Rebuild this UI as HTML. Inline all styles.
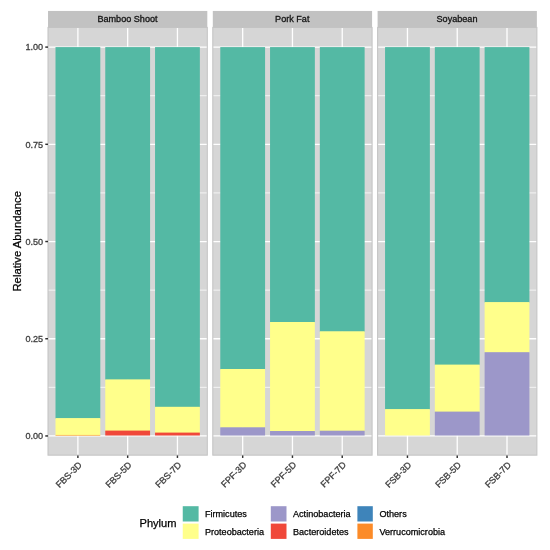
<!DOCTYPE html>
<html><head><meta charset="utf-8"><title>Phylum relative abundance</title>
<style>html,body{margin:0;padding:0;background:#fff}svg{display:block}</style></head>
<body>
<svg width="550" height="550" viewBox="0 0 550 550" font-family="Liberation Sans, Arial, Helvetica, sans-serif">
<rect width="550" height="550" fill="#fff"/>
<rect x="48.03" y="27.45" width="159.28" height="427.70" fill="#D6D6D6"/>
<line x1="48.03" x2="207.31" y1="387.34" y2="387.34" stroke="#fff" stroke-width="0.75"/>
<line x1="48.03" x2="207.31" y1="290.13" y2="290.13" stroke="#fff" stroke-width="0.75"/>
<line x1="48.03" x2="207.31" y1="192.92" y2="192.92" stroke="#fff" stroke-width="0.75"/>
<line x1="48.03" x2="207.31" y1="95.71" y2="95.71" stroke="#fff" stroke-width="0.75"/>
<line x1="48.03" x2="207.31" y1="435.95" y2="435.95" stroke="#fff" stroke-width="1.3"/>
<line x1="48.03" x2="207.31" y1="338.74" y2="338.74" stroke="#fff" stroke-width="1.3"/>
<line x1="48.03" x2="207.31" y1="241.53" y2="241.53" stroke="#fff" stroke-width="1.3"/>
<line x1="48.03" x2="207.31" y1="144.31" y2="144.31" stroke="#fff" stroke-width="1.3"/>
<line x1="48.03" x2="207.31" y1="47.10" y2="47.10" stroke="#fff" stroke-width="1.3"/>
<line x1="77.89" x2="77.89" y1="27.45" y2="455.15" stroke="#fff" stroke-width="1.3"/>
<line x1="127.67" x2="127.67" y1="27.45" y2="455.15" stroke="#fff" stroke-width="1.3"/>
<line x1="177.44" x2="177.44" y1="27.45" y2="455.15" stroke="#fff" stroke-width="1.3"/>
<rect x="48.03" y="27.45" width="159.28" height="427.70" fill="none" stroke="#C5C5C5" stroke-width="1.1"/>
<rect x="48.03" y="10.95" width="159.28" height="16.50" fill="#C2C2C2"/>
<rect x="55.50" y="47.10" width="44.80" height="371.50" fill="#54B9A4"/>
<rect x="55.50" y="418.10" width="44.80" height="17.35" fill="#FFFF8B"/>
<rect x="55.50" y="434.95" width="44.80" height="0.55" fill="#FC8B28"/>
<line x1="77.89" x2="77.89" y1="455.45" y2="457.95" stroke="#2E2E2E" stroke-width="1.45"/>
<text transform="translate(77.89,460.95) rotate(-45)" x="0" y="6.4" font-size="9.1" fill="#3E3E3E" stroke="#3E3E3E" stroke-width="0.3" text-anchor="end">FBS-3D</text>
<rect x="105.27" y="47.10" width="44.80" height="332.80" fill="#54B9A4"/>
<rect x="105.27" y="379.40" width="44.80" height="51.70" fill="#FFFF8B"/>
<rect x="105.27" y="430.60" width="44.80" height="4.90" fill="#F0483A"/>
<line x1="127.67" x2="127.67" y1="455.45" y2="457.95" stroke="#2E2E2E" stroke-width="1.45"/>
<text transform="translate(127.67,460.95) rotate(-45)" x="0" y="6.4" font-size="9.1" fill="#3E3E3E" stroke="#3E3E3E" stroke-width="0.3" text-anchor="end">FBS-5D</text>
<rect x="155.05" y="47.10" width="44.80" height="360.20" fill="#54B9A4"/>
<rect x="155.05" y="406.80" width="44.80" height="26.30" fill="#FFFF8B"/>
<rect x="155.05" y="432.60" width="44.80" height="2.90" fill="#F0483A"/>
<line x1="177.44" x2="177.44" y1="455.45" y2="457.95" stroke="#2E2E2E" stroke-width="1.45"/>
<text transform="translate(177.44,460.95) rotate(-45)" x="0" y="6.4" font-size="9.1" fill="#3E3E3E" stroke="#3E3E3E" stroke-width="0.3" text-anchor="end">FBS-7D</text>
<rect x="212.81" y="27.45" width="159.28" height="427.70" fill="#D6D6D6"/>
<line x1="212.81" x2="372.09" y1="387.34" y2="387.34" stroke="#fff" stroke-width="0.75"/>
<line x1="212.81" x2="372.09" y1="290.13" y2="290.13" stroke="#fff" stroke-width="0.75"/>
<line x1="212.81" x2="372.09" y1="192.92" y2="192.92" stroke="#fff" stroke-width="0.75"/>
<line x1="212.81" x2="372.09" y1="95.71" y2="95.71" stroke="#fff" stroke-width="0.75"/>
<line x1="212.81" x2="372.09" y1="435.95" y2="435.95" stroke="#fff" stroke-width="1.3"/>
<line x1="212.81" x2="372.09" y1="338.74" y2="338.74" stroke="#fff" stroke-width="1.3"/>
<line x1="212.81" x2="372.09" y1="241.53" y2="241.53" stroke="#fff" stroke-width="1.3"/>
<line x1="212.81" x2="372.09" y1="144.31" y2="144.31" stroke="#fff" stroke-width="1.3"/>
<line x1="212.81" x2="372.09" y1="47.10" y2="47.10" stroke="#fff" stroke-width="1.3"/>
<line x1="242.68" x2="242.68" y1="27.45" y2="455.15" stroke="#fff" stroke-width="1.3"/>
<line x1="292.45" x2="292.45" y1="27.45" y2="455.15" stroke="#fff" stroke-width="1.3"/>
<line x1="342.23" x2="342.23" y1="27.45" y2="455.15" stroke="#fff" stroke-width="1.3"/>
<rect x="212.81" y="27.45" width="159.28" height="427.70" fill="none" stroke="#C5C5C5" stroke-width="1.1"/>
<rect x="212.81" y="10.95" width="159.28" height="16.50" fill="#C2C2C2"/>
<rect x="220.28" y="47.10" width="44.80" height="322.40" fill="#54B9A4"/>
<rect x="220.28" y="369.00" width="44.80" height="58.80" fill="#FFFF8B"/>
<rect x="220.28" y="427.30" width="44.80" height="8.20" fill="#9C97C9"/>
<line x1="242.68" x2="242.68" y1="455.45" y2="457.95" stroke="#2E2E2E" stroke-width="1.45"/>
<text transform="translate(242.68,460.95) rotate(-45)" x="0" y="6.4" font-size="9.1" fill="#3E3E3E" stroke="#3E3E3E" stroke-width="0.3" text-anchor="end">FPF-3D</text>
<rect x="270.05" y="47.10" width="44.80" height="275.40" fill="#54B9A4"/>
<rect x="270.05" y="322.00" width="44.80" height="109.50" fill="#FFFF8B"/>
<rect x="270.05" y="431.00" width="44.80" height="4.50" fill="#9C97C9"/>
<line x1="292.45" x2="292.45" y1="455.45" y2="457.95" stroke="#2E2E2E" stroke-width="1.45"/>
<text transform="translate(292.45,460.95) rotate(-45)" x="0" y="6.4" font-size="9.1" fill="#3E3E3E" stroke="#3E3E3E" stroke-width="0.3" text-anchor="end">FPF-5D</text>
<rect x="319.83" y="47.10" width="44.80" height="284.70" fill="#54B9A4"/>
<rect x="319.83" y="331.30" width="44.80" height="99.90" fill="#FFFF8B"/>
<rect x="319.83" y="430.70" width="44.80" height="4.80" fill="#9C97C9"/>
<line x1="342.23" x2="342.23" y1="455.45" y2="457.95" stroke="#2E2E2E" stroke-width="1.45"/>
<text transform="translate(342.23,460.95) rotate(-45)" x="0" y="6.4" font-size="9.1" fill="#3E3E3E" stroke="#3E3E3E" stroke-width="0.3" text-anchor="end">FPF-7D</text>
<rect x="377.59" y="27.45" width="159.28" height="427.70" fill="#D6D6D6"/>
<line x1="377.59" x2="536.87" y1="387.34" y2="387.34" stroke="#fff" stroke-width="0.75"/>
<line x1="377.59" x2="536.87" y1="290.13" y2="290.13" stroke="#fff" stroke-width="0.75"/>
<line x1="377.59" x2="536.87" y1="192.92" y2="192.92" stroke="#fff" stroke-width="0.75"/>
<line x1="377.59" x2="536.87" y1="95.71" y2="95.71" stroke="#fff" stroke-width="0.75"/>
<line x1="377.59" x2="536.87" y1="435.95" y2="435.95" stroke="#fff" stroke-width="1.3"/>
<line x1="377.59" x2="536.87" y1="338.74" y2="338.74" stroke="#fff" stroke-width="1.3"/>
<line x1="377.59" x2="536.87" y1="241.53" y2="241.53" stroke="#fff" stroke-width="1.3"/>
<line x1="377.59" x2="536.87" y1="144.31" y2="144.31" stroke="#fff" stroke-width="1.3"/>
<line x1="377.59" x2="536.87" y1="47.10" y2="47.10" stroke="#fff" stroke-width="1.3"/>
<line x1="407.45" x2="407.45" y1="27.45" y2="455.15" stroke="#fff" stroke-width="1.3"/>
<line x1="457.23" x2="457.23" y1="27.45" y2="455.15" stroke="#fff" stroke-width="1.3"/>
<line x1="507.00" x2="507.00" y1="27.45" y2="455.15" stroke="#fff" stroke-width="1.3"/>
<rect x="377.59" y="27.45" width="159.28" height="427.70" fill="none" stroke="#C5C5C5" stroke-width="1.1"/>
<rect x="377.59" y="10.95" width="159.28" height="16.50" fill="#C2C2C2"/>
<rect x="385.06" y="47.10" width="44.80" height="362.50" fill="#54B9A4"/>
<rect x="385.06" y="409.10" width="44.80" height="26.40" fill="#FFFF8B"/>
<line x1="407.45" x2="407.45" y1="455.45" y2="457.95" stroke="#2E2E2E" stroke-width="1.45"/>
<text transform="translate(407.45,460.95) rotate(-45)" x="0" y="6.4" font-size="9.1" fill="#3E3E3E" stroke="#3E3E3E" stroke-width="0.3" text-anchor="end">FSB-3D</text>
<rect x="434.83" y="47.10" width="44.80" height="318.00" fill="#54B9A4"/>
<rect x="434.83" y="364.60" width="44.80" height="47.50" fill="#FFFF8B"/>
<rect x="434.83" y="411.60" width="44.80" height="23.90" fill="#9C97C9"/>
<line x1="457.23" x2="457.23" y1="455.45" y2="457.95" stroke="#2E2E2E" stroke-width="1.45"/>
<text transform="translate(457.23,460.95) rotate(-45)" x="0" y="6.4" font-size="9.1" fill="#3E3E3E" stroke="#3E3E3E" stroke-width="0.3" text-anchor="end">FSB-5D</text>
<rect x="484.61" y="47.10" width="44.80" height="255.50" fill="#54B9A4"/>
<rect x="484.61" y="302.10" width="44.80" height="50.60" fill="#FFFF8B"/>
<rect x="484.61" y="352.20" width="44.80" height="83.30" fill="#9C97C9"/>
<line x1="507.00" x2="507.00" y1="455.45" y2="457.95" stroke="#2E2E2E" stroke-width="1.45"/>
<text transform="translate(507.00,460.95) rotate(-45)" x="0" y="6.4" font-size="9.1" fill="#3E3E3E" stroke="#3E3E3E" stroke-width="0.3" text-anchor="end">FSB-7D</text>
<text x="127.47" y="22.0" font-size="9.1" fill="#141414" stroke="#141414" stroke-width="0.3" text-anchor="middle">Bamboo Shoot</text>
<text x="292.25" y="22.0" font-size="9.1" fill="#141414" stroke="#141414" stroke-width="0.3" text-anchor="middle">Pork Fat</text>
<text x="457.03" y="22.0" font-size="9.1" fill="#141414" stroke="#141414" stroke-width="0.3" text-anchor="middle">Soyabean</text>
<line x1="45.28" x2="48.03" y1="435.95" y2="435.95" stroke="#2E2E2E" stroke-width="1.45"/>
<text x="43.08" y="439.15" font-size="9.1" fill="#3E3E3E" stroke="#3E3E3E" stroke-width="0.3" text-anchor="end">0.00</text>
<line x1="45.28" x2="48.03" y1="338.74" y2="338.74" stroke="#2E2E2E" stroke-width="1.45"/>
<text x="43.08" y="341.94" font-size="9.1" fill="#3E3E3E" stroke="#3E3E3E" stroke-width="0.3" text-anchor="end">0.25</text>
<line x1="45.28" x2="48.03" y1="241.53" y2="241.53" stroke="#2E2E2E" stroke-width="1.45"/>
<text x="43.08" y="244.72" font-size="9.1" fill="#3E3E3E" stroke="#3E3E3E" stroke-width="0.3" text-anchor="end">0.50</text>
<line x1="45.28" x2="48.03" y1="144.31" y2="144.31" stroke="#2E2E2E" stroke-width="1.45"/>
<text x="43.08" y="147.51" font-size="9.1" fill="#3E3E3E" stroke="#3E3E3E" stroke-width="0.3" text-anchor="end">0.75</text>
<line x1="45.28" x2="48.03" y1="47.10" y2="47.10" stroke="#2E2E2E" stroke-width="1.45"/>
<text x="43.08" y="50.30" font-size="9.1" fill="#3E3E3E" stroke="#3E3E3E" stroke-width="0.3" text-anchor="end">1.00</text>
<text transform="translate(21.2,241.30) rotate(-90)" font-size="11.3" fill="#000" stroke="#000" stroke-width="0.25" text-anchor="middle">Relative Abundance</text>
<text x="139.5" y="526.5" font-size="11.1" fill="#000" stroke="#000" stroke-width="0.25">Phylum</text>
<rect x="182.75" y="506.20" width="15.85" height="15.3" fill="#54B9A4"/>
<text x="204.90" y="517.40" font-size="9.1" fill="#000" stroke="#000" stroke-width="0.25">Firmicutes</text>
<rect x="182.75" y="523.60" width="15.85" height="15.3" fill="#FFFF8B"/>
<text x="204.90" y="534.50" font-size="9.1" fill="#000" stroke="#000" stroke-width="0.25">Proteobacteria</text>
<rect x="270.80" y="506.20" width="15.7" height="15.3" fill="#9C97C9"/>
<text x="293.00" y="517.40" font-size="9.1" fill="#000" stroke="#000" stroke-width="0.25">Actinobacteria</text>
<rect x="270.80" y="523.60" width="15.7" height="15.3" fill="#F0483A"/>
<text x="293.00" y="534.50" font-size="9.1" fill="#000" stroke="#000" stroke-width="0.25">Bacteroidetes</text>
<rect x="357.40" y="506.20" width="15.4" height="15.3" fill="#3E84BA"/>
<text x="379.40" y="517.40" font-size="9.1" fill="#000" stroke="#000" stroke-width="0.25">Others</text>
<rect x="357.40" y="523.60" width="15.4" height="15.3" fill="#FC8B28"/>
<text x="379.40" y="534.50" font-size="9.1" fill="#000" stroke="#000" stroke-width="0.25">Verrucomicrobia</text>
</svg>
</body></html>
